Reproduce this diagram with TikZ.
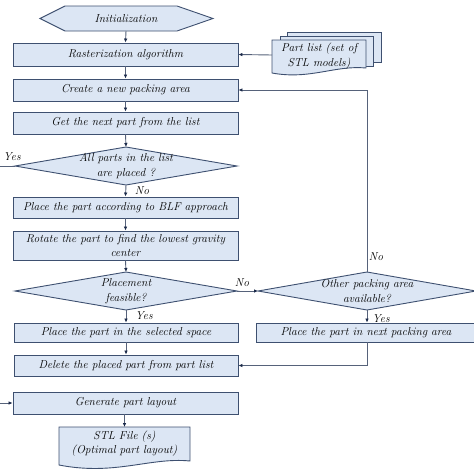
\documentclass[tikz,border=0pt]{standalone}
\usetikzlibrary{arrows.meta}
\definecolor{boxfill}{HTML}{DCE6F4}
\definecolor{boxline}{HTML}{3E5070}
\definecolor{conn}{HTML}{56627A}
\definecolor{tipc}{HTML}{1B2A4A}
\begin{document}
\begin{tikzpicture}[x=1pt,y=-1pt,
  txt/.style={font=\fontsize{11.5}{14.5}\selectfont\itshape, align=center, inner sep=0pt},
  procbox/.style={txt, draw=boxline, fill=boxfill, line width=0.9pt, minimum width=225pt},
  shapeline/.style={draw=boxline, fill=boxfill, line width=0.9pt},
  conn/.style={draw=conn, line width=0.9pt, -{Latex[length=4pt,width=3.6pt,color=tipc]}},
  plain/.style={draw=conn, line width=0.9pt},
  lab/.style={font=\fontsize{11.5}{13}\selectfont\itshape, inner sep=0pt}]
\useasboundingbox (0,0) rectangle (474,474);
\clip (0,0) rectangle (474,474);
% Initialization hexagon
\path[shapeline] (40,18.5) -- (65,6) -- (177,6) -- (213,18.5) -- (177,31) -- (65,31) -- cycle;
\node[txt] (init) at (126,18.5) {Initialization};
\coordinate (initb) at (126,31);
% boxes
\node[procbox, minimum height=23pt] (rast) at (125.5,54.5) {Rasterization algorithm};
\node[procbox, minimum height=22pt] (create) at (125.5,90) {Create a new packing area};
\node[procbox, minimum height=22pt] (getnext) at (125.5,123) {Get the next part from the list};
% diamond 1
\path[shapeline] (15,166) -- (126,147) -- (237,166) -- (126,185) -- cycle;
\node[txt] (d1) at (126,166) {All parts in the list\\are placed ?};
\coordinate (d1t) at (126,147); \coordinate (d1b) at (126,185); \coordinate (d1l) at (15,166);
\node[procbox, minimum height=21pt] (blf) at (125.5,207.5) {Place the part according to BLF approach};
\node[procbox, minimum height=29pt] (rot) at (125.5,245.5) {Rotate the part to find the lowest gravity\\center};
% diamond 2
\path[shapeline] (15,291) -- (126,272) -- (237,291) -- (126,310) -- cycle;
\node[txt] (d2) at (126,291) {Placement\\feasible?};
\coordinate (d2t) at (126,272); \coordinate (d2b) at (126,310); \coordinate (d2r) at (237,291);
% diamond 3
\path[shapeline] (258,291) -- (367,272) -- (476,291) -- (367,310) -- cycle;
\node[txt] (d3) at (367,291) {Other packing area\\available?};
\coordinate (d3t) at (367,272); \coordinate (d3b) at (367,310); \coordinate (d3l) at (258,291);
\node[procbox, minimum width=224pt, minimum height=19pt] (sel) at (126,332.5) {Place the part in the selected space};
\node[procbox, minimum width=219pt, minimum height=19pt] (next) at (366,332.5) {Place the part in next packing area};
\node[procbox, minimum width=224pt, minimum height=21pt] (del) at (126,365.5) {Delete the placed part from part list};
\node[procbox, minimum height=22pt] (gen) at (125.5,403) {Generate part layout};
% STL document
\path[shapeline] (59,427) -- (190,427) -- (190,461) .. controls (150,457) and (115,476) .. (59,465) -- cycle;
\node[txt] (stl) at (124.5,443.5) {STL File (s)\\(Optimal part layout)};
\coordinate (stlt) at (124.5,427);
% Part list multi document
\path[shapeline] (287,32) rectangle (381,62);
\path[shapeline] (280,36) rectangle (373,66);
\path[shapeline] (272,40) -- (366,40) -- (366,68) .. controls (335,65) and (310,80) .. (272,73) -- cycle;
\node[txt] (plist) at (319,56) {Part list (set of\\STL models)};
\coordinate (plistl) at (272,55);
% connectors
\draw[conn] (initb) -- (rast.north);
\draw[conn] (plistl) -- (rast.east);
\draw[conn] (rast.south) -- (create.north);
\draw[conn] (create.south) -- (getnext.north);
\draw[conn] (getnext.south) -- (d1t);
\draw[conn] (d1b) -- (blf.north);
\draw[conn] (blf.south) -- (rot.north);
\draw[conn] (rot.south) -- (d2t);
\draw[conn] (d2b) -- (sel.north);
\draw[conn] (sel.south) -- (del.north);
\draw[conn] (d2r) -- (d3l);
\draw[conn] (d3b) -- (d3b |- next.north);
\draw[conn] (d3t) -- (367,90) -- (create.east);
\draw[conn] (next.south -| 367,0) -- (367,365.5) -- (del.east);
\draw[conn] (d1l) -- (-3,166) -- (-3,403) -- (gen.west);
\draw[conn] (gen.south -| stlt) -- (stlt);
% labels
\node[lab] (ly1) at (12,157) {Yes};
\node[lab] (ln1) at (142,191) {No};
\node[lab] (ln2) at (242,283) {No};
\node[lab] (ly2) at (144,316) {Yes};
\node[lab] (ly3) at (381,318.5) {Yes};
\node[lab] (ln3) at (376,257) {No};
\end{tikzpicture}
\end{document}
